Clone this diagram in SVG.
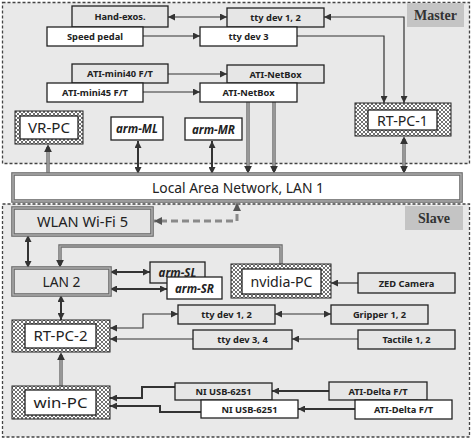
<svg xmlns="http://www.w3.org/2000/svg" width="474" height="439" viewBox="0 0 474 439">
<defs>
  <pattern id="hatch" width="4" height="4" patternUnits="userSpaceOnUse">
    <rect width="4" height="4" fill="#fff"/>
    <path d="M0,0 L4,4 M4,0 L0,4" stroke="#333" stroke-width="0.7"/>
  </pattern>
  <marker id="a" viewBox="0 0 10 10" refX="10" refY="5" markerWidth="8" markerHeight="7" markerUnits="userSpaceOnUse" orient="auto-start-reverse">
    <path d="M0,0 L10,5 L0,10 z" fill="#333"/>
  </marker>
  <marker id="at" viewBox="0 0 10 10" refX="6.5" refY="5" markerWidth="8" markerHeight="8" markerUnits="userSpaceOnUse" orient="auto-start-reverse">
    <path d="M0,0 L10,5 L0,10 z" fill="#333"/>
  </marker>
  <marker id="ad" viewBox="0 0 10 10" refX="10" refY="5" markerWidth="8" markerHeight="8" markerUnits="userSpaceOnUse" orient="auto-start-reverse">
    <path d="M0,0 L10,5 L0,10 z" fill="#555"/>
  </marker>
</defs>
<style>
  .region{fill:#e9e9e9;stroke:#444;stroke-width:1.3;stroke-dasharray:3 2}
  .tag{fill:#c4c4c4}
  .tagt{font-family:"Liberation Serif",serif;font-weight:bold;font-size:14px;fill:#333;text-anchor:middle}
  .sb{stroke:#222;stroke-width:1.3}
  .w{fill:#fff}
  .g{fill:#e6e6e6}
  .dbo{stroke:#6a6a6a;stroke-width:3.6}
  .dbi{fill:none;stroke:#b5b5b5;stroke-width:1.3}
  .hat{fill:url(#hatch);stroke:#222;stroke-width:1}
  .st{font-family:"Noto Sans","Open Sans",sans-serif;font-weight:bold;font-size:9.3px;fill:#222;text-anchor:middle}
  .lt{font-family:"Noto Sans","Open Sans",sans-serif;font-size:15px;fill:#222;text-anchor:middle}
  .arm{font-family:"Noto Sans","Open Sans",sans-serif;font-weight:bold;font-style:italic;font-size:11.5px;fill:#222;text-anchor:middle}
  .c{fill:none;stroke:#333;stroke-width:1.2}
  .cm{fill:none;stroke:#333;stroke-width:2}
  .ct{fill:none;stroke:#6a6a6a;stroke-width:3.4}
  .cti{fill:none;stroke:#b5b5b5;stroke-width:1.2}
  .cd{fill:none;stroke:#8a8a8a;stroke-width:3;stroke-dasharray:7 4}
</style>

<g id="master-region">
  <rect class="region" x="2.5" y="2.5" width="467" height="161"/>
  <rect class="tag" x="407" y="3" width="57" height="24"/>
  <text class="tagt" x="435.5" y="20">Master</text>
</g>
<g id="slave-region">
  <rect class="region" x="2.5" y="204" width="467" height="233"/>
  <rect class="tag" x="405" y="206" width="58" height="24"/>
  <text class="tagt" x="434" y="223">Slave</text>
</g>

<g id="connectors">
  <path class="c" d="M168,17 H227" marker-start="url(#a)" marker-end="url(#a)"/>
  <path class="c" d="M143,36 H200" marker-end="url(#a)"/>
  <path class="c" d="M168,74 H227" marker-end="url(#a)"/>
  <path class="c" d="M143,92 H200" marker-end="url(#a)"/>
  <path class="c" d="M324,17 H404 V103" marker-start="url(#a)" marker-end="url(#a)"/>
  <path class="c" d="M297,36 H384 V103" marker-end="url(#a)"/>
  <path class="cm" d="M138,141 V174" marker-start="url(#a)" marker-end="url(#a)"/>
  <path class="cm" d="M212,141 V174" marker-start="url(#a)" marker-end="url(#a)"/>
  <path class="ct" d="M48,174 V147"/><path class="cti" d="M48,174 V147"/>
  <path d="M48,174 V147" fill="none" stroke="none" marker-end="url(#at)"/>
  <path class="ct" d="M248,102 V171"/><path class="cti" d="M248,102 V171"/>
  <path d="M248,102 V171" fill="none" stroke="none" marker-end="url(#at)"/>
  <path class="ct" d="M274,102 V171"/><path class="cti" d="M274,102 V171"/>
  <path d="M274,102 V171" fill="none" stroke="none" marker-end="url(#at)"/>
  <path class="ct" d="M404,139 V171"/><path class="cti" d="M404,139 V171"/>
  <path d="M404,139 V171" fill="none" stroke="none" marker-start="url(#at)" marker-end="url(#at)"/>
  <path class="cd" d="M237,203 V221 H154" marker-start="url(#ad)" marker-end="url(#ad)"/>
  <path class="cm" d="M28,235 V268" marker-start="url(#a)" marker-end="url(#a)"/>
  <path class="cm" d="M110,272 H150" marker-start="url(#a)" marker-end="url(#a)"/>
  <path class="cm" d="M110,289 H167" marker-start="url(#a)" marker-end="url(#a)"/>
  <path class="cm" d="M61,295 V320" marker-start="url(#a)" marker-end="url(#a)"/>
  <path class="ct" d="M281,264 V246 H60 V265"/><path class="cti" d="M281,264 V246 H60 V265"/>
  <path d="M60,246 V265" fill="none" stroke="none" marker-end="url(#at)"/>
  <path class="ct" d="M61,386 V355"/><path class="cti" d="M61,386 V355"/>
  <path d="M61,386 V355" fill="none" stroke="none" marker-end="url(#at)"/>
  <path class="c" d="M358,283 H331" marker-end="url(#a)"/>
  <path class="c" d="M110,328 H143 V314 H178" marker-start="url(#a)" marker-end="url(#a)"/>
  <path class="c" d="M193,339 H110" marker-end="url(#a)"/>
  <path class="c" d="M275,314 H331" marker-start="url(#a)" marker-end="url(#a)"/>
  <path class="c" d="M358,339 H292" marker-end="url(#a)"/>
  <path class="cm" d="M329,391 H272" marker-end="url(#a)"/>
  <path class="cm" d="M355,409 H298" marker-end="url(#a)"/>
  <path class="cm" d="M175,387 H142 V398 H110" marker-end="url(#a)"/>
  <path class="cm" d="M201,412 H160 V406 H110" marker-end="url(#a)"/>
</g>

<g id="lan1">
  <rect class="dbo w" x="13" y="174" width="448" height="27"/>
  <rect class="dbi" x="13" y="174" width="448" height="27"/>
  <text class="lt" x="238" y="193" textLength="172" lengthAdjust="spacingAndGlyphs">Local Area Network, LAN 1</text>
</g>

<g id="hand-exos"><rect class="sb g" x="72" y="6" width="96" height="21"/><text class="st" x="120" y="20">Hand-exos.</text></g>
<g id="speed-pedal"><rect class="sb w" x="47" y="27" width="96" height="19"/><text class="st" x="95" y="40">Speed pedal</text></g>
<g id="tty12-m"><rect class="sb g" x="227" y="8" width="97" height="19"/><text class="st" x="275.5" y="21">tty dev 1, 2</text></g>
<g id="tty3-m"><rect class="sb w" x="200" y="27" width="97" height="19"/><text class="st" x="248.5" y="40">tty dev 3</text></g>
<g id="mini40"><rect class="sb g" x="72" y="64" width="96" height="19"/><text class="st" x="120" y="77">ATI-mini40 F/T</text></g>
<g id="mini45"><rect class="sb w" x="47" y="83" width="96" height="19"/><text class="st" x="95" y="96">ATI-mini45 F/T</text></g>
<g id="netbox1"><rect class="sb g" x="227" y="65" width="97" height="18"/><text class="st" x="275.5" y="78">ATI-NetBox</text></g>
<g id="netbox2"><rect class="sb w" x="200" y="83" width="97" height="19"/><text class="st" x="248.5" y="96">ATI-NetBox</text></g>

<g id="vr-pc"><rect class="hat" x="15" y="111" width="68" height="33"/><rect class="sb w" x="20" y="116" width="58" height="23"/><text class="lt" x="49" y="133" textLength="42" lengthAdjust="spacingAndGlyphs">VR-PC</text></g>
<g id="arm-ml"><rect class="sb w" x="111" y="117" width="52" height="23"/><text class="arm" x="137" y="133">arm-ML</text></g>
<g id="arm-mr"><rect class="sb w" x="185" y="118" width="57" height="22"/><text class="arm" x="213.5" y="133.5">arm-MR</text></g>
<g id="rt-pc-1"><rect class="hat" x="355" y="103" width="96" height="33"/><rect class="sb w" x="368" y="110" width="69" height="20"/><text class="lt" x="402.5" y="125.5" textLength="51" lengthAdjust="spacingAndGlyphs">RT-PC-1</text></g>

<g id="wlan"><rect class="dbo g" x="13" y="208" width="139" height="27"/><rect class="dbi" x="13" y="208" width="139" height="27"/><text class="lt" x="82.5" y="227" textLength="91" lengthAdjust="spacingAndGlyphs">WLAN Wi-Fi 5</text></g>
<g id="lan2"><rect class="dbo g" x="13" y="268" width="97" height="27"/><rect class="dbi" x="13" y="268" width="97" height="27"/><text class="lt" x="61.5" y="287" textLength="38" lengthAdjust="spacingAndGlyphs">LAN 2</text></g>
<g id="arm-sl"><rect class="sb g" x="150" y="262" width="55" height="21"/><text class="arm" x="177.5" y="277">arm-SL</text></g>
<g id="arm-sr"><rect class="sb w" x="167" y="277" width="55" height="22"/><text class="arm" x="194.5" y="292.5">arm-SR</text></g>
<g id="nvidia-pc"><rect class="hat" x="231" y="264" width="100" height="34"/><rect class="sb w" x="242" y="269" width="79" height="25"/><text class="lt" x="281.5" y="287" textLength="62" lengthAdjust="spacingAndGlyphs">nvidia-PC</text></g>
<g id="zed"><rect class="sb g" x="358" y="273" width="97" height="20"/><text class="st" x="406.5" y="286.5">ZED Camera</text></g>
<g id="rt-pc-2"><rect class="hat" x="12" y="320" width="98" height="32"/><rect class="sb w" x="25" y="324" width="71" height="24"/><text class="lt" x="60.5" y="341" textLength="54" lengthAdjust="spacingAndGlyphs">RT-PC-2</text></g>
<g id="tty12-s"><rect class="sb g" x="178" y="305" width="97" height="19"/><text class="st" x="226.5" y="318">tty dev 1, 2</text></g>
<g id="tty34-s"><rect class="sb g" x="193" y="330" width="99" height="19"/><text class="st" x="242.5" y="343">tty dev 3, 4</text></g>
<g id="gripper"><rect class="sb g" x="331" y="305" width="97" height="19"/><text class="st" x="379.5" y="318">Gripper 1, 2</text></g>
<g id="tactile"><rect class="sb g" x="358" y="330" width="97" height="19"/><text class="st" x="406.5" y="343">Tactile 1, 2</text></g>
<g id="win-pc"><rect class="hat" x="12" y="386" width="98" height="33"/><rect class="sb w" x="25" y="390" width="71" height="25"/><text class="lt" x="60.5" y="408" textLength="54" lengthAdjust="spacingAndGlyphs">win-PC</text></g>
<g id="niusb1"><rect class="sb g" x="175" y="383" width="97" height="17"/><text class="st" x="223.5" y="395">NI USB-6251</text></g>
<g id="niusb2"><rect class="sb w" x="201" y="400" width="97" height="18"/><text class="st" x="249.5" y="412.5">NI USB-6251</text></g>
<g id="delta1"><rect class="sb g" x="329" y="382" width="98" height="18"/><text class="st" x="378" y="394.5">ATI-Delta F/T</text></g>
<g id="delta2"><rect class="sb w" x="355" y="400" width="97" height="19"/><text class="st" x="403.5" y="413">ATI-Delta F/T</text></g>
</svg>
